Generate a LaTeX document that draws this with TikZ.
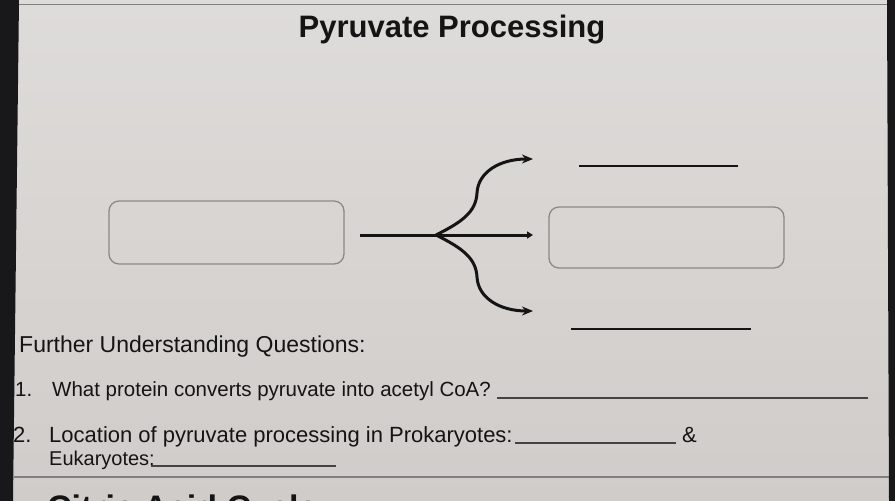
\documentclass[tikz,border=0pt]{standalone}
\usepackage{fontspec}
\setmainfont{Liberation Sans}
\usetikzlibrary{arrows.meta,positioning,shapes}

\definecolor{screen}{RGB}{222,220,218}
\definecolor{screendark}{RGB}{208,204,201}
\definecolor{boxline}{RGB}{140,136,134}
\definecolor{ink}{RGB}{20,20,20}
\definecolor{bezel}{RGB}{24,24,26}

\begin{document}
\begin{tikzpicture}[x=1pt,y=-1pt,
  answerbox/.style={draw=boxline,line width=1.3pt,rounded corners=10pt,inner sep=0pt},
  answerline/.style={ink,line width=2.5pt},
  fillline/.style={ink!80,line width=1.2pt},
  branch/.style={ink,line width=3pt,-{Stealth[length=11pt,width=9pt]}},
  qtext/.style={anchor=base west,inner sep=0pt,text=ink,font=\fontsize{#1}{25}\selectfont},
  qtext/.default=21]
\useasboundingbox (0,0) rectangle (895,501);
\clip (0,0) rectangle (895,501);
\shade[top color=screen,bottom color=screendark] (0,0) rectangle (895,501);
\draw[gray,line width=1pt] (18,4) -- (888,4);

% title
\node[anchor=base,inner sep=0pt,text=ink,font=\bfseries\fontsize{31}{36}\selectfont] (title) at (452,37) {Pyruvate Processing};

% answer boxes
\node[answerbox,minimum width=235pt,minimum height=63pt] (pyruvate) at (226.5,232.5) {};
\node[answerbox,minimum width=235pt,minimum height=61pt] (product) at (666.5,237.5) {};
\draw[answerline] (579,166) -- (738,166);
\draw[answerline] (571,329) -- (751,329);

% splitting arrows
\coordinate (start) at (360,235);
\coordinate (split) at (436,235);
\coordinate (tipup) at (533,159);
\coordinate (tipmid) at (533,235);
\coordinate (tipdown) at (533,311);
\draw[ink,line width=3pt,-{Triangle[length=6pt,width=7pt]}] (start) -- (tipmid);
\draw[branch] (split) .. controls (462,222) and (476,212) .. (477,193)
  .. controls (478,172) and (500,159) .. (tipup);
\draw[branch] (split) .. controls (462,248) and (476,258) .. (477,277)
  .. controls (478,298) and (500,311) .. (tipdown);

% questions
\node[qtext=23] (further) at (19,352) {Further Understanding Questions:};
\node[qtext=20.5] (num1) at (15,396) {1.};
\node[qtext=20.5] (q1) at (52,396) {What protein converts pyruvate into acetyl CoA?};
\draw[fillline] (497,398) -- (868,398);
\node[qtext=22] (num2) at (13,442) {2.};
\node[qtext=22] (q2) at (49,442) {Location of pyruvate processing in Prokaryotes:};
\draw[fillline] (515,443) -- (676,443);
\node[qtext=22] (amp) at (682,442) {\&};
\node[qtext=20] (q2b) at (49,465) {Eukaryotes:};
\draw[fillline] (151,466) -- (336,466);
\draw[gray,line width=1.5pt] (14,477) -- (895,477);
\node[anchor=base west,inner sep=0pt,text=ink,font=\bfseries\fontsize{34}{40}\selectfont] (next) at (47,519) {Citric Acid Cycle};

% screen edges
\fill[bezel] (0,0) -- (19,0) -- (13,501) -- (0,501) -- cycle;
\fill[bezel] (887,0) -- (895,0) -- (895,501) -- (889,501) -- cycle;
\end{tikzpicture}
\end{document}
